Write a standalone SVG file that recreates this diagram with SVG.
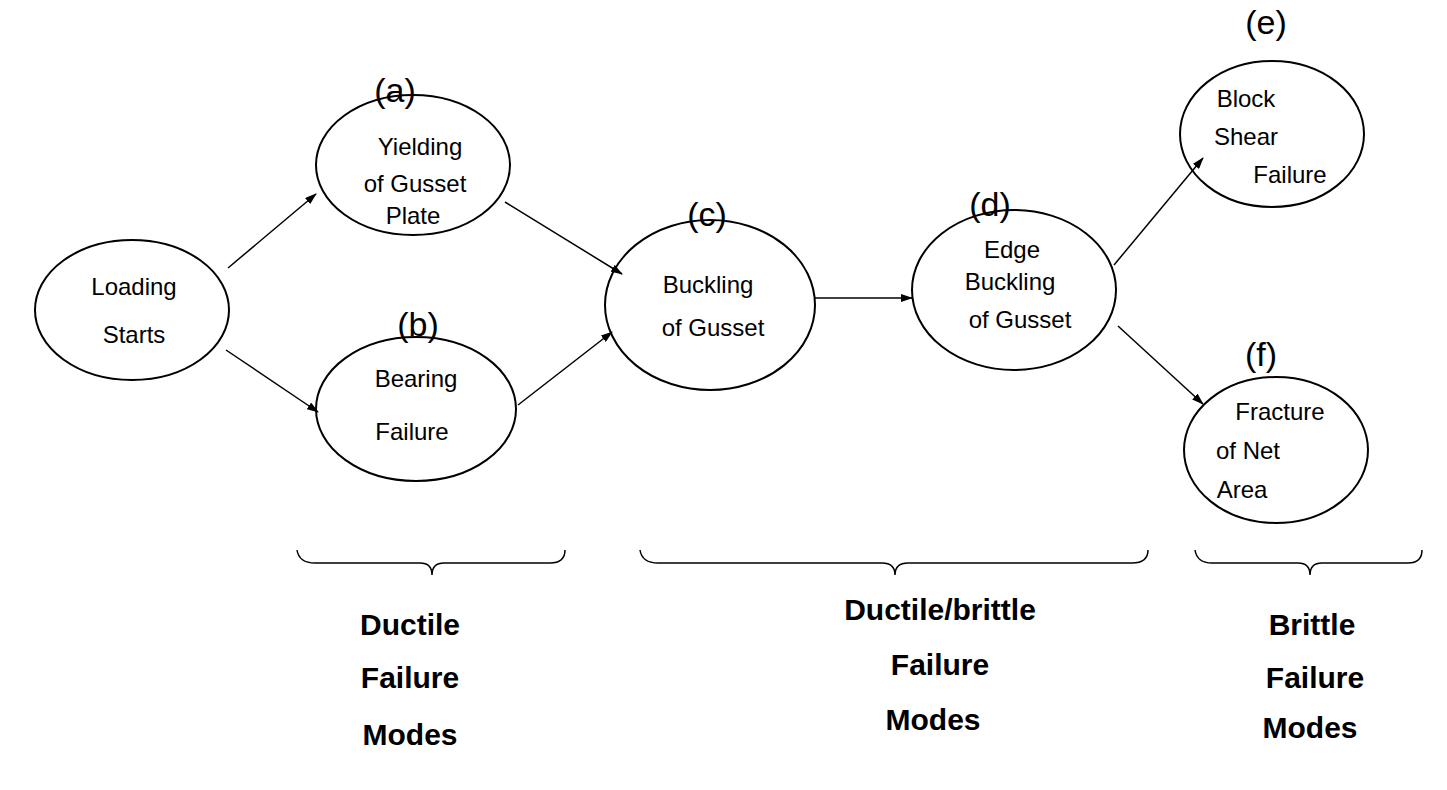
<svg xmlns="http://www.w3.org/2000/svg" width="1447" height="790" viewBox="0 0 1447 790">
<style>
.n{fill:#fff;stroke:#000;stroke-width:2}
.t{font-family:"Liberation Sans",Arial,sans-serif;font-size:24px;text-anchor:middle}
.l{font-family:"Liberation Sans",Arial,sans-serif;font-size:34px;text-anchor:middle}
.b{font-family:"Liberation Sans",Arial,sans-serif;font-size:30px;font-weight:bold;text-anchor:middle}
.c{stroke:#000;stroke-width:1.5;fill:none}
.br{stroke:#000;stroke-width:1.5;fill:none}
</style>
<defs><marker id="ah" markerWidth="12" markerHeight="8" refX="11" refY="4" orient="auto" markerUnits="userSpaceOnUse"><path d="M0,0 L12,4 L0,8 z" fill="#000"/></marker></defs>
<rect width="1447" height="790" fill="#fff"/>
<g id="start"><ellipse class="n" cx="132" cy="310" rx="97" ry="70"/><text class="t" x="134" y="295">Loading</text><text class="t" x="134" y="343">Starts</text></g>
<g id="a"><ellipse class="n" cx="413" cy="165" rx="97" ry="70"/><text class="l" x="395" y="102">(a)</text><text class="t" x="420" y="155">Yielding</text><text class="t" x="415" y="192">of Gusset</text><text class="t" x="413" y="224">Plate</text></g>
<g id="b"><ellipse class="n" cx="416" cy="409" rx="100" ry="72"/><text class="l" x="418" y="336">(b)</text><text class="t" x="416" y="387">Bearing</text><text class="t" x="412" y="440">Failure</text></g>
<g id="c"><ellipse class="n" cx="710" cy="305" rx="105" ry="85"/><text class="l" x="707" y="226">(c)</text><text class="t" x="708" y="293">Buckling</text><text class="t" x="713" y="336">of Gusset</text></g>
<g id="d"><ellipse class="n" cx="1014" cy="290" rx="102" ry="80"/><text class="l" x="990" y="216">(d)</text><text class="t" x="1012" y="258">Edge</text><text class="t" x="1010" y="290">Buckling</text><text class="t" x="1020" y="328">of Gusset</text></g>
<g id="e"><ellipse class="n" cx="1272" cy="134" rx="92" ry="73"/><text class="l" x="1266" y="34">(e)</text><text class="t" x="1246" y="107">Block</text><text class="t" x="1246" y="145">Shear</text><text class="t" x="1290" y="183">Failure</text></g>
<g id="f"><ellipse class="n" cx="1276" cy="450" rx="92" ry="73"/><text class="l" x="1261" y="366">(f)</text><text class="t" x="1280" y="420">Fracture</text><text class="t" x="1248" y="459">of Net</text><text class="t" x="1242" y="498">Area</text></g>
<g id="connectors">
<line class="c" x1="228" y1="268" x2="316" y2="194" marker-end="url(#ah)"/>
<line class="c" x1="226" y1="350" x2="318" y2="412" marker-end="url(#ah)"/>
<line class="c" x1="505" y1="202" x2="622" y2="274" marker-end="url(#ah)"/>
<line class="c" x1="518" y1="405" x2="612" y2="332" marker-end="url(#ah)"/>
<line class="c" x1="815" y1="298" x2="912" y2="298" marker-end="url(#ah)"/>
<line class="c" x1="1114" y1="265" x2="1203" y2="158" marker-end="url(#ah)"/>
<line class="c" x1="1118" y1="326" x2="1203" y2="404" marker-end="url(#ah)"/>
</g>
<g id="braces">
<path class="br" d="M297,550 Q299,563 315,563 L420,563 Q432,563 432,575 Q432,563 444,563 L550,563 Q565,563 565,550"/>
<path class="br" d="M640,550 Q642,563 658,563 L882,563 Q895,563 895,575 Q895,563 908,563 L1132,563 Q1148,563 1148,550"/>
<path class="br" d="M1195,550 Q1197,563 1212,563 L1298,563 Q1310,563 1310,575 Q1310,563 1322,563 L1408,563 Q1422,563 1422,550"/>
</g>
<g id="labels">
<text class="b" x="410" y="635">Ductile</text><text class="b" x="410" y="688">Failure</text><text class="b" x="410" y="745">Modes</text>
<text class="b" x="940" y="620">Ductile/brittle</text><text class="b" x="940" y="675">Failure</text><text class="b" x="933" y="730">Modes</text>
<text class="b" x="1312" y="635">Brittle</text><text class="b" x="1315" y="688">Failure</text><text class="b" x="1310" y="738">Modes</text>
</g>
</svg>
